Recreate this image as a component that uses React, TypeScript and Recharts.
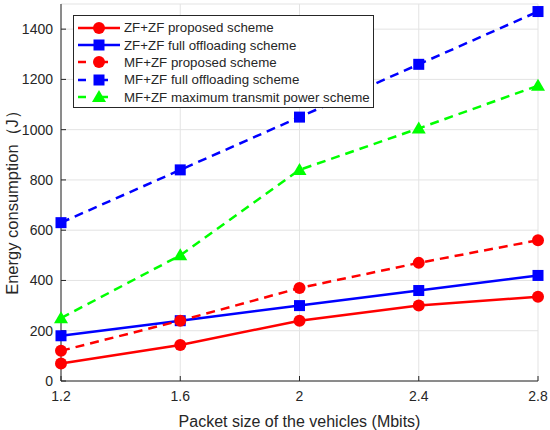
import React from 'react';
import { LineChart, Line, XAxis, YAxis, CartesianGrid } from 'recharts';

const packetSizes = [1.2, 1.6, 2, 2.4, 2.8];
const yTicks = [0, 200, 400, 600, 800, 1000, 1200, 1400];

const zfzfProposed = [70, 143, 240, 300, 335];
const zfzfFull = [180, 240, 300, 360, 420];
const mfzfProposed = [120, 240, 370, 470, 560];
const mfzfFull = [630, 840, 1050, 1260, 1470];
const mfzfMaxPower = [250, 500, 840, 1005, 1175];

const series = [
  { key: 'zfzfProposed', name: 'ZF+ZF proposed scheme', color: '#ff0000', dashed: false, marker: 'circle', values: zfzfProposed },
  { key: 'zfzfFull', name: 'ZF+ZF full offloading scheme', color: '#0000ff', dashed: false, marker: 'square', values: zfzfFull },
  { key: 'mfzfProposed', name: 'MF+ZF proposed scheme', color: '#ff0000', dashed: true, marker: 'circle', values: mfzfProposed },
  { key: 'mfzfFull', name: 'MF+ZF full offloading scheme', color: '#0000ff', dashed: true, marker: 'square', values: mfzfFull },
  { key: 'mfzfMaxPower', name: 'MF+ZF maximum transmit power scheme', color: '#00ff00', dashed: true, marker: 'triangle', values: mfzfMaxPower },
];

const data = packetSizes.map((x, i) => {
  const row: any = { x };
  series.forEach((s) => { row[s.key] = s.values[i]; });
  return row;
});

const AXIS = '#262626';
const FONT = 'Arial, "Liberation Sans", Helvetica, sans-serif';
const DASH = '9 6';

function Marker({ type, cx, cy, color }: { type: string; cx: number; cy: number; color: string }) {
  if (type === 'square') {
    return <rect x={cx - 5.5} y={cy - 5.5} width={11} height={11} fill={color} />;
  }
  if (type === 'triangle') {
    return <polygon points={`${cx},${cy - 7} ${cx - 7},${cy + 5} ${cx + 7},${cy + 5}`} fill={color} />;
  }
  return <circle cx={cx} cy={cy} r={6} fill={color} />;
}

// legend drawn as an overlay so the chart keeps its full plot height
function LegendBox() {
  return (
    <div style={{ position: 'absolute', left: 73, top: 15, boxSizing: 'border-box', width: 301, height: 93, background: '#fff', border: `1px solid ${AXIS}`, paddingTop: 3, fontFamily: FONT, fontSize: 13.3, color: AXIS }}>
      {series.map((s) => (
        <div key={s.key} style={{ display: 'flex', alignItems: 'center', height: 17.4 }}>
          <svg width={46} height={16} style={{ marginLeft: 3, flex: 'none' }}>
            <line x1={1} y1={8} x2={43} y2={8} stroke={s.color} strokeWidth={2.5} strokeDasharray={s.dashed ? '8 14' : undefined} />
            <Marker type={s.marker} cx={22} cy={8} color={s.color} />
          </svg>
          <span style={{ marginLeft: 1, whiteSpace: 'nowrap' }}>{s.name}</span>
        </div>
      ))}
    </div>
  );
}

export default function App() {
  return (
    <div style={{ position: 'absolute', left: 0, top: 0, width: 550, height: 430, background: '#fff' }}>
      <LineChart width={550} height={430} data={data} margin={{ top: 4, right: 12, bottom: 0, left: 0 }}>
        <CartesianGrid stroke="#e3e3e3" strokeWidth={1} />
        <XAxis
          dataKey="x"
          type="number"
          domain={[1.2, 2.8]}
          ticks={packetSizes}
          height={49}
          stroke={AXIS}
          tickSize={-5}
          tickMargin={15}
          tick={{ fill: AXIS, fontSize: 14, fontFamily: FONT }}
          label={{ value: 'Packet size of the vehicles (Mbits)', position: 'insideBottom', offset: 3, fill: AXIS, fontSize: 16, fontFamily: FONT }}
        />
        <XAxis xAxisId="top" dataKey="x" type="number" orientation="top" domain={[1.2, 2.8]} ticks={packetSizes} height={0} stroke={AXIS} tickSize={-5} tickFormatter={() => ''} />
        <YAxis
          type="number"
          domain={[0, 1500]}
          ticks={yTicks}
          width={61}
          stroke={AXIS}
          tickSize={-5}
          tickMargin={13}
          tick={{ fill: AXIS, fontSize: 14, fontFamily: FONT }}
          label={{ value: 'Energy consumption（J）', angle: -90, position: 'center', dx: -18, dy: 6, fill: AXIS, fontSize: 16.5, fontFamily: FONT }}
        />
        <YAxis yAxisId="right" orientation="right" type="number" domain={[0, 1500]} ticks={yTicks} width={0} stroke={AXIS} tickSize={-5} tickFormatter={() => ''} />
        {series.map((s) => (
          <Line
            key={s.key}
            dataKey={s.key}
            name={s.name}
            stroke={s.color}
            strokeWidth={2.5}
            strokeDasharray={s.dashed ? DASH : undefined}
            isAnimationActive={false}
            dot={(p: any) => <Marker key={`${s.key}-${p.index}`} type={s.marker} cx={p.cx} cy={p.cy} color={s.color} />}
            activeDot={false}
          />
        ))}
      </LineChart>
      <LegendBox />
    </div>
  );
}
